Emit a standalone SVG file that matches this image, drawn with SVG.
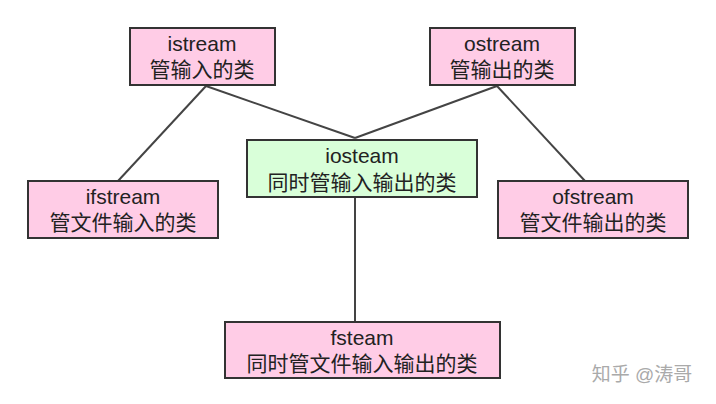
<svg xmlns="http://www.w3.org/2000/svg" width="716" height="404" viewBox="0 0 716 404">
<style>
.p{fill:#ffcce6;stroke:#333;stroke-width:2}
.g{fill:#d9ffd9;stroke:#333;stroke-width:2}
text{font-family:"Liberation Sans","Noto Sans CJK SC",sans-serif;font-size:21px;fill:#222;text-anchor:middle}
.c line{stroke:#444;stroke-width:2}
.w{font-size:19px;fill:#aaa}
</style>
<rect width="716" height="404" fill="#fff"/>
<g class="c">
<line x1="206" y1="86" x2="118" y2="181"/>
<line x1="206" y1="86" x2="355" y2="138"/>
<line x1="497" y1="86" x2="355" y2="138"/>
<line x1="497" y1="86" x2="585" y2="181"/>
<line x1="355" y1="197" x2="355" y2="322"/>
</g>
<g id="istream"><rect class="p" x="130" y="28" width="145" height="57"/><text x="202" y="51">istream</text><text x="202" y="77">管输入的类</text></g>
<g id="ostream"><rect class="p" x="430" y="28" width="145" height="57"/><text x="502" y="51">ostream</text><text x="502" y="77">管输出的类</text></g>
<g id="iosteam"><rect class="g" x="247" y="140" width="230" height="57"/><text x="362" y="163">iosteam</text><text x="362" y="190">同时管输入输出的类</text></g>
<g id="ifstream"><rect class="p" x="28" y="181" width="190" height="57"/><text x="123" y="204">ifstream</text><text x="123" y="230">管文件输入的类</text></g>
<g id="ofstream"><rect class="p" x="498" y="181" width="190" height="57"/><text x="593" y="204">ofstream</text><text x="593" y="230">管文件输出的类</text></g>
<g id="fsteam"><rect class="p" x="225" y="322" width="275" height="56"/><text x="362" y="345">fsteam</text><text x="362" y="371">同时管文件输入输出的类</text></g>
<text class="w" x="642" y="381">知乎 @涛哥</text>
</svg>
